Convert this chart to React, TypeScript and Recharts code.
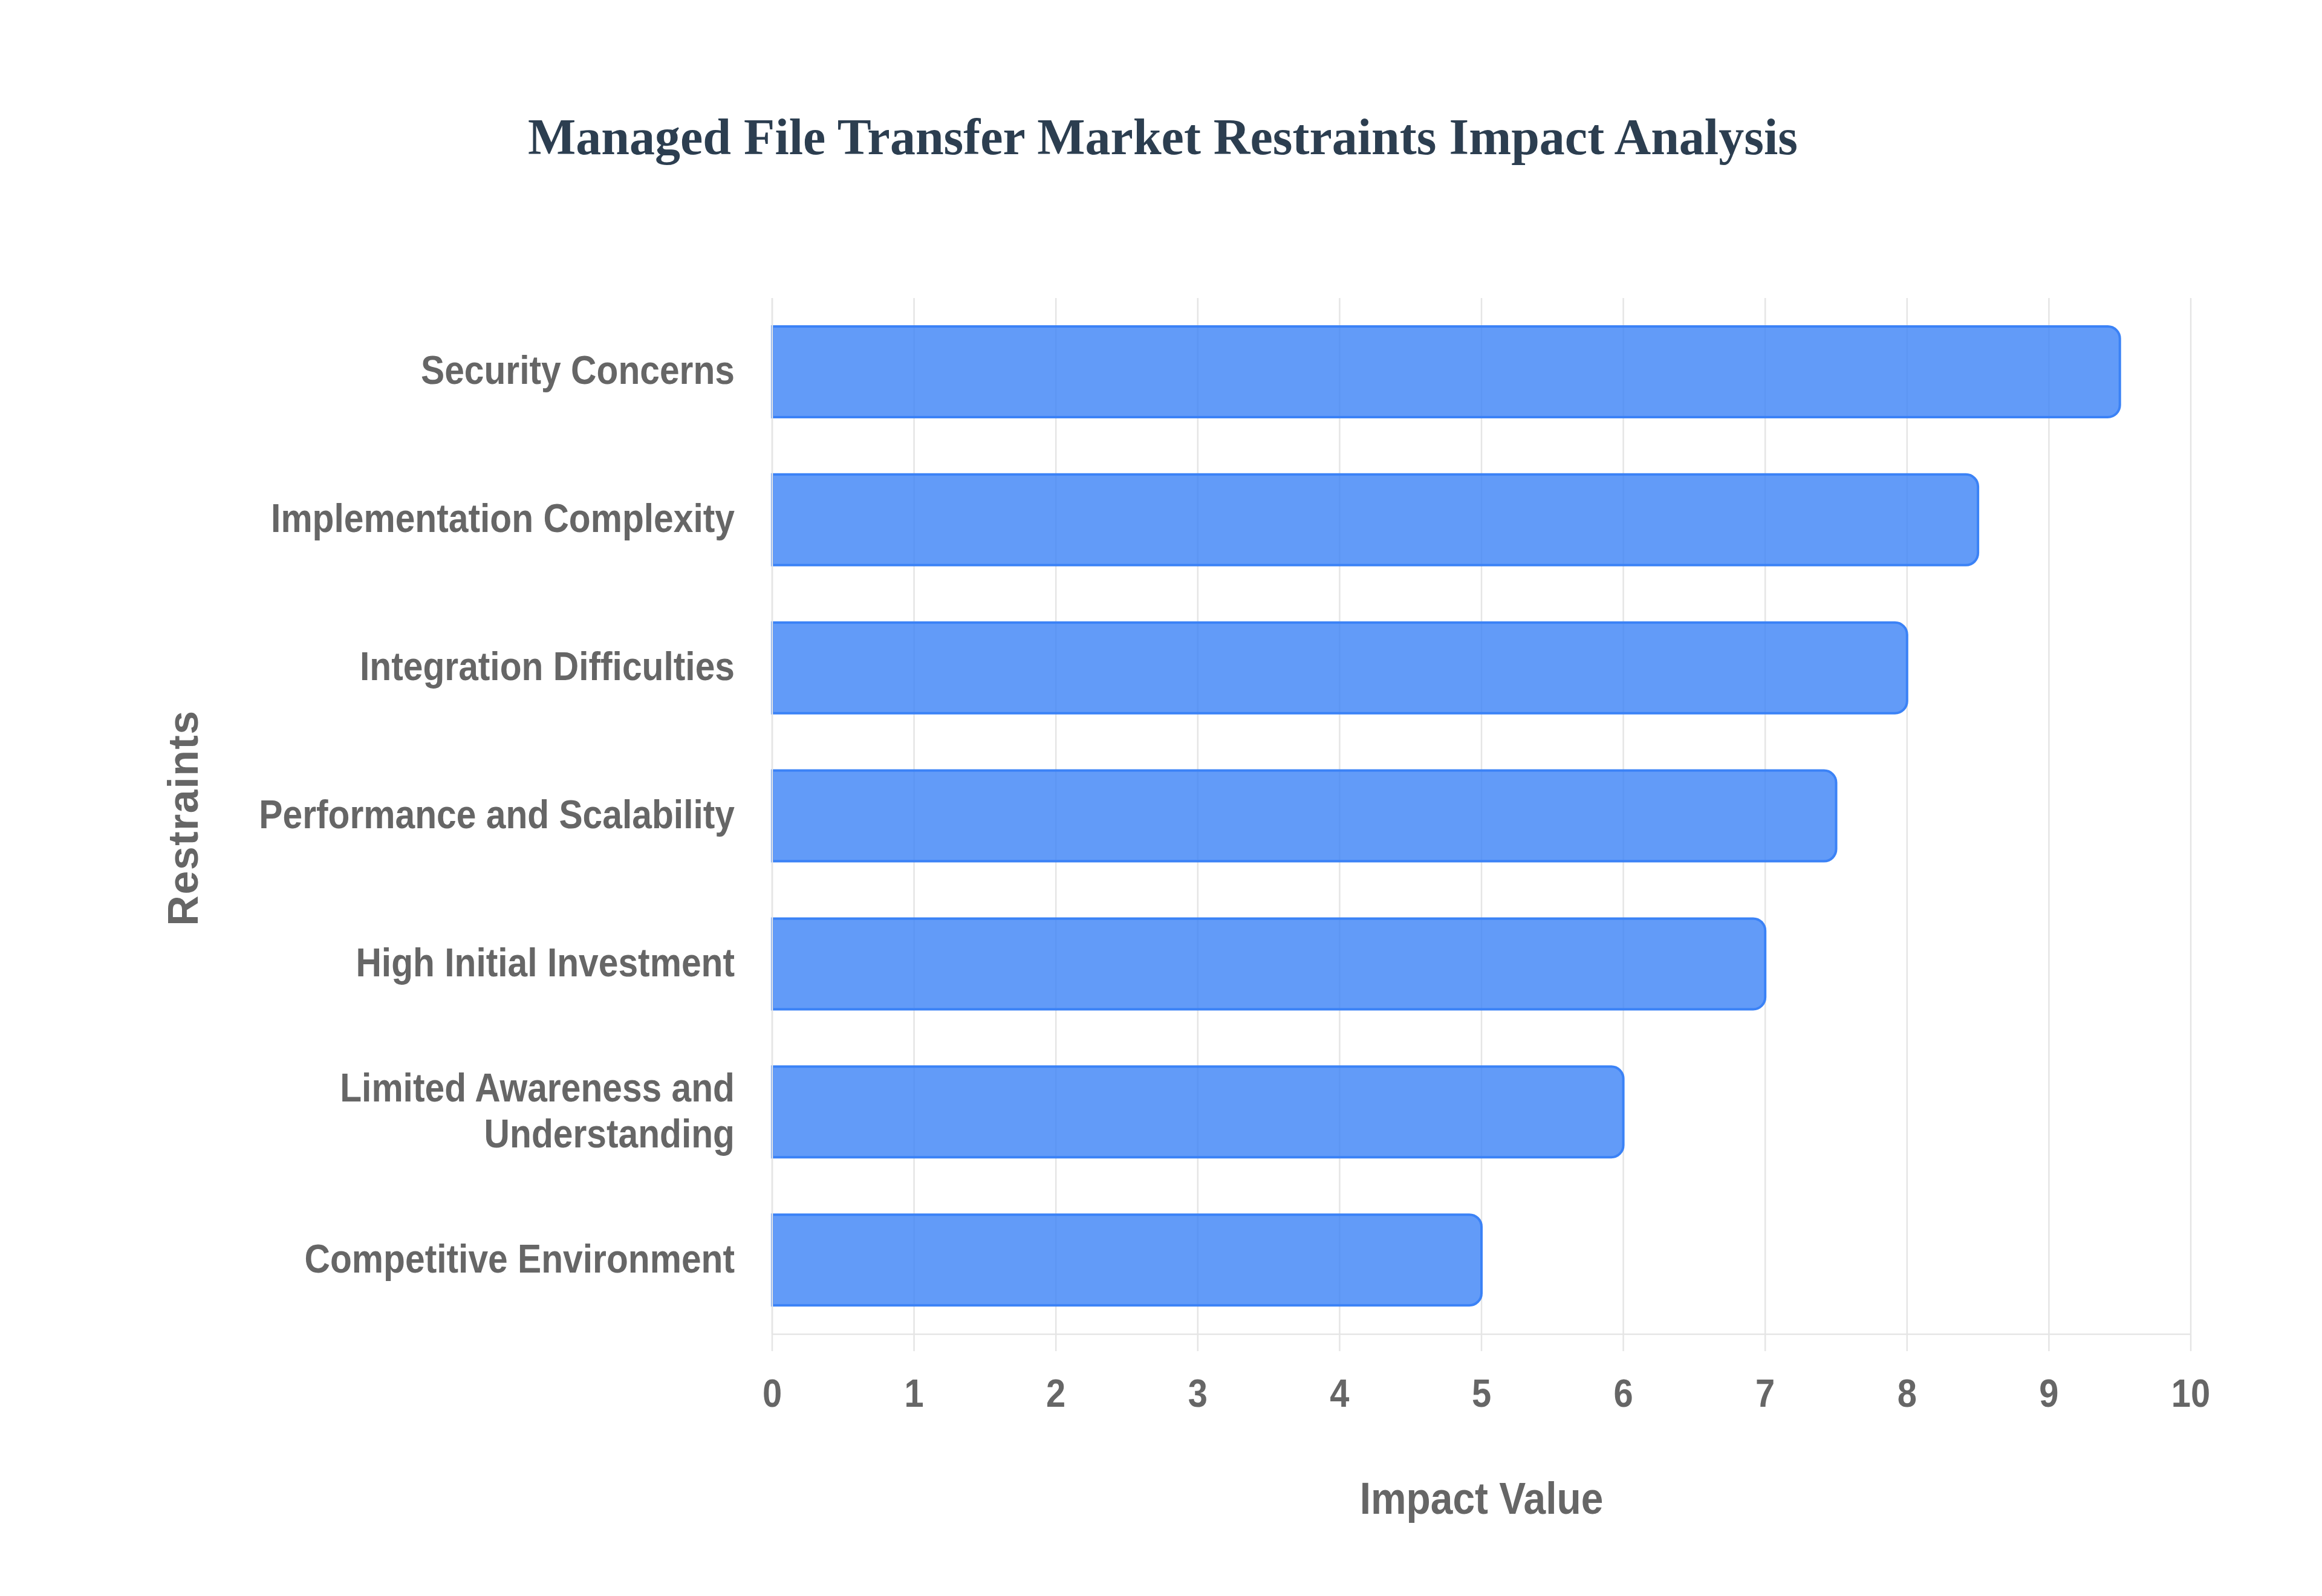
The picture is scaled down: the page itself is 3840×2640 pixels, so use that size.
import React from "react";
import { BarChart, Bar, XAxis, YAxis, CartesianGrid, Label } from "recharts";

const restraints = [
  "Security Concerns",
  "Implementation Complexity",
  "Integration Difficulties",
  "Performance and Scalability",
  "High Initial Investment",
  "Limited Awareness and\nUnderstanding",
  "Competitive Environment",
];
const impactValues = [9.5, 8.5, 8, 7.5, 7, 6, 5];
const xTicks = [0, 1, 2, 3, 4, 5, 6, 7, 8, 9, 10];

const chartTitle = "Managed File Transfer Market Restraints Impact Analysis";
const xTitle = "Impact Value";
const yTitle = "Restraints";

const data = restraints.map((name, i) => ({ name, value: impactValues[i] }));

const SANS = "'Liberation Sans', Arial, Helvetica, sans-serif";
const TEXT_GRAY = "#666666";
const GRID = "#e5e5e5";
const NARROW = 0.89;

const YTick = (props: any) => {
  const { x, y, payload } = props;
  const lines = String(payload.value).split("\n");
  const lh = 76;
  const start = -((lines.length - 1) * lh) / 2;
  return (
    <g transform={`translate(${x},${y}) scale(${NARROW},1)`}>
      <text textAnchor="end" fill={TEXT_GRAY} fontFamily={SANS} fontWeight="bold" fontSize={66}>
        {lines.map((l, i) => (
          <tspan key={i} x={0} y={start + i * lh + 20}>
            {l}
          </tspan>
        ))}
      </text>
    </g>
  );
};

const XTick = (props: any) => {
  const { x, y, payload } = props;
  return (
    <g transform={`translate(${x},${y + 92}) scale(${NARROW},1)`}>
      <text textAnchor="middle" x={0} y={0} fill={TEXT_GRAY} fontFamily={SANS} fontWeight="bold" fontSize={65}>
        {payload.value}
      </text>
    </g>
  );
};

const XTitle = (props: any) => {
  const vb = props.viewBox || {};
  const cx = vb.x + vb.width / 2;
  return (
    <g transform={`translate(${cx},${vb.y + 297}) scale(${NARROW},1)`}>
      <text textAnchor="middle" x={0} y={0} fill={TEXT_GRAY} fontFamily={SANS} fontWeight="bold" fontSize={74}>
        {xTitle}
      </text>
    </g>
  );
};

const YTitle = (props: any) => {
  const vb = props.viewBox || {};
  const cy = vb.y + vb.height / 2;
  return (
    <g transform={`translate(327,${cy + 3}) rotate(-90)`}>
      <text textAnchor="middle" x={0} y={0} fill={TEXT_GRAY} fontFamily={SANS} fontWeight="bold" fontSize={70} letterSpacing={1.5}>
        {yTitle}
      </text>
    </g>
  );
};

export default function App() {
  return (
    <div style={{ position: "absolute", left: 0, top: 0, width: 3840, height: 2640, background: "#ffffff" }}>
      <div
        style={{
          position: "absolute",
          left: 0,
          top: 185,
          width: 3846,
          textAlign: "center",
          fontFamily: "'Liberation Serif', 'Times New Roman', serif",
          fontWeight: "bold",
          fontSize: 84,
          lineHeight: "84px",
          color: "#2c3e50",
          whiteSpace: "nowrap",
        }}
      >
        {chartTitle}
      </div>
      <BarChart
        width={3840}
        height={2640}
        data={data}
        layout="vertical"
        margin={{ top: 493, right: 217, bottom: 0, left: 0 }}
      >
        <CartesianGrid horizontal={false} vertical={true} stroke={GRID} strokeWidth={2.5} />
        <Bar
          dataKey="value"
          barSize={150}
          fill="rgba(59,130,246,0.8)"
          stroke="#3b82f6"
          strokeWidth={4}
          radius={[0, 20, 20, 0]}
          isAnimationActive={false}
        />
        <XAxis
          type="number"
          domain={[0, 10]}
          ticks={xTicks}
          interval={0}
          height={433}
          tickSize={28}
          tickMargin={0}
          tickLine={{ stroke: GRID, strokeWidth: 2.5 }}
          axisLine={{ stroke: GRID, strokeWidth: 2.5 }}
          tick={<XTick />}
        >
          <Label content={<XTitle />} />
        </XAxis>
        <YAxis
          type="category"
          dataKey="name"
          width={1277}
          tickSize={0}
          tickMargin={62}
          tickLine={false}
          interval={0}
          axisLine={{ stroke: GRID, strokeWidth: 2.5 }}
          tick={<YTick />}
        >
          <Label content={<YTitle />} />
        </YAxis>
      </BarChart>
    </div>
  );
}
